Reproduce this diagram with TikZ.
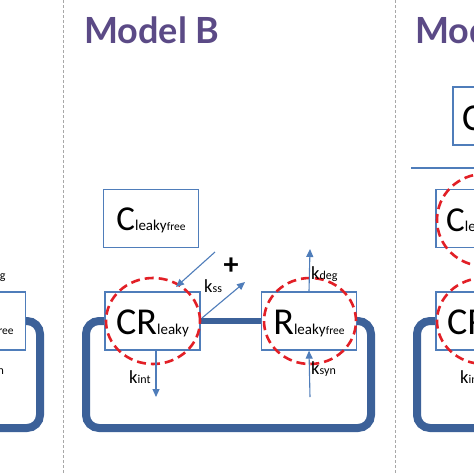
\documentclass[tikz,border=0pt]{standalone}
\usepackage{fontspec}
\setmainfont{Carlito}
\newfontfamily\titlefont{Lato}
\usetikzlibrary{arrows.meta}
\definecolor{boxblue}{HTML}{4F7DBA}
\definecolor{loopblue}{HTML}{3C6199}
\definecolor{ringred}{HTML}{E21F26}
\definecolor{titlepurple}{HTML}{5B4A86}
\definecolor{sepgray}{HTML}{A8A8A8}
\newcommand\mainsym[1]{{\fontsize{38}{38}\selectfont #1}}
\newcommand\subsym[1]{{\fontsize{15}{15}\selectfont #1}}
\newcommand\subsubsym[1]{{\fontsize{11.5}{11.5}\selectfont #1}}
\newcommand\kname[1]{{\fontsize{18.5}{18.5}\selectfont k}{\fontsize{12}{12}\selectfont #1}}
\tikzset{
  boxnode/.style={draw=boxblue, line width=1.3pt, fill=white, minimum width=95pt,
    minimum height=58pt, inner sep=0pt, text height=26pt, text depth=0pt},
  loopline/.style={draw=loopblue, line width=8pt, rounded corners=13pt},
  bridge/.style={draw=loopblue, line width=6pt},
  rxn/.style={draw=boxblue, line width=1.1pt, -{Triangle[length=8pt,width=7pt]}},
  ring/.style={draw=ringred, line width=2.6pt, dash pattern=on 9pt off 5pt},
  sepline/.style={draw=sepgray, line width=0.9pt, dash pattern=on 3pt off 2pt},
  membrane/.style={draw=boxblue, line width=1.5pt},
  titletext/.style={text=titlepurple, font=\titlefont\bfseries\fontsize{36}{36}\selectfont,
    anchor=base west, inner sep=0pt},
  klabel/.style={anchor=base west, inner sep=0pt},
  plainlabel/.style={anchor=base west, inner sep=0pt},
}
\begin{document}
\begin{tikzpicture}[x=1pt,y=-1pt]
\useasboundingbox (0,0) rectangle (474,474);
\clip (0,0) rectangle (474,474);
\fill[white] (0,0) rectangle (474,474);

% separators
\coordinate (sep1t) at (63,0);   \coordinate (sep1b) at (63,474);
\coordinate (sep2t) at (395,0);  \coordinate (sep2b) at (395,474);
\draw[sepline] (sep1t) -- (sep1b);
\draw[sepline] (sep2t) -- (sep2b);

% titles
\node[titletext] (titleB) at (84,43) {Model B};
\node[titletext] (titleC) at (415,43) {Model C};

% ---------- Model A (cut off at left) ----------
\node[boxnode] (rA) at (-22,321) {};
\coordinate (loopA1) at (40,321);
\coordinate (loopA2) at (40,428);
\coordinate (loopA3) at (-200,428);
\draw[loopline] (rA.east) -- (loopA1) -- (loopA2) -- (loopA3);
\node[boxnode] (rAbox) at (-22,321) {\mainsym{R}\subsym{leaky}\subsubsym{free}\hspace{6pt}};
\node[klabel] (kdegA) at (-21,279) {\kname{deg}};
\node[klabel] (ksynA) at (-21,374) {\kname{syn}};

% ---------- Model B ----------
\node[boxnode, text height=23pt] (cB) at (151,218.5)
  {\fontsize{35}{35}\selectfont C\subsym{leaky}\subsubsym{free}};
\coordinate (loopB1) at (86,321);
\coordinate (loopB2) at (86,428);
\coordinate (loopB3) at (371,428);
\coordinate (loopB4) at (371,321);
\node[boxnode] (crB) at (152.5,321) {};
\node[boxnode] (rB) at (309,321) {};
\draw[loopline] (crB.west) -- (loopB1) -- (loopB2) -- (loopB3) -- (loopB4) -- (rB.east);
\draw[bridge] (crB.east) -- (rB.west);
\node[boxnode] (crBt) at (152.5,321) {\mainsym{CR}\subsym{leaky}};
\node[boxnode] (rBt) at (309,321) {\mainsym{R}\subsym{leaky}\subsubsym{free}};
\draw[ring] (153,321) ellipse [x radius=47pt, y radius=43pt];
\draw[ring] (310,321) ellipse [x radius=46pt, y radius=43pt];

% reactions
\coordinate (degB) at (310,249);
\coordinate (synB) at (310,397);
\coordinate (intB) at (156,397);
\coordinate (ssIn) at (215,252);
\coordinate (ssInEnd) at (176,287);
\coordinate (ssOut) at (245,282);
\coordinate (ssOutStart) at (202,318);
\draw[rxn] (rBt.north) -- (degB);
\draw[rxn] (synB) -- (rBt.south);
\draw[rxn] (crBt.south -| intB) -- (intB);
\draw[rxn] (ssIn) -- (ssInEnd);
\draw[rxn] (ssOutStart) -- (ssOut);
\node[klabel] (kdegB) at (311,279) {\kname{deg}};
\node[klabel] (ksynB) at (311,374) {\kname{syn}};
\node[klabel] (kintB) at (129,383) {\kname{int}};
\node[klabel] (kssB) at (204,292) {\kname{ss}};
\node[inner sep=0pt, font=\bfseries\fontsize{30}{30}\selectfont] (plusB) at (231,266) {+};

% ---------- Model C (cut off at right) ----------
\node[boxnode] (cTopC) at (500.5,116) {};
\node[plainlabel] (cTopCt) at (462,130) {\mainsym{C}};
\coordinate (memL) at (411,168);
\coordinate (memR) at (600,168);
\draw[membrane] (memL) -- (memR);
\node[boxnode] (cLC) at (483.5,218.5) {};
\node[plainlabel] (cLCt) at (446,231) {\fontsize{35}{35}\selectfont C\subsym{leaky}};
\coordinate (loopC1) at (417,321);
\coordinate (loopC2) at (417,428);
\coordinate (loopC3) at (620,428);
\node[boxnode] (crC) at (483.5,321) {};
\draw[loopline] (crC.west) -- (loopC1) -- (loopC2) -- (loopC3);
\node[boxnode] (crCt) at (483.5,321) {\mainsym{CR}\subsym{leaky}};
\draw[ring] (484,220) ellipse [x radius=47pt, y radius=46pt];
\draw[ring] (484,321) ellipse [x radius=47pt, y radius=43pt];
\node[klabel] (kintC) at (460,383) {\kname{int}};
\end{tikzpicture}
\end{document}
